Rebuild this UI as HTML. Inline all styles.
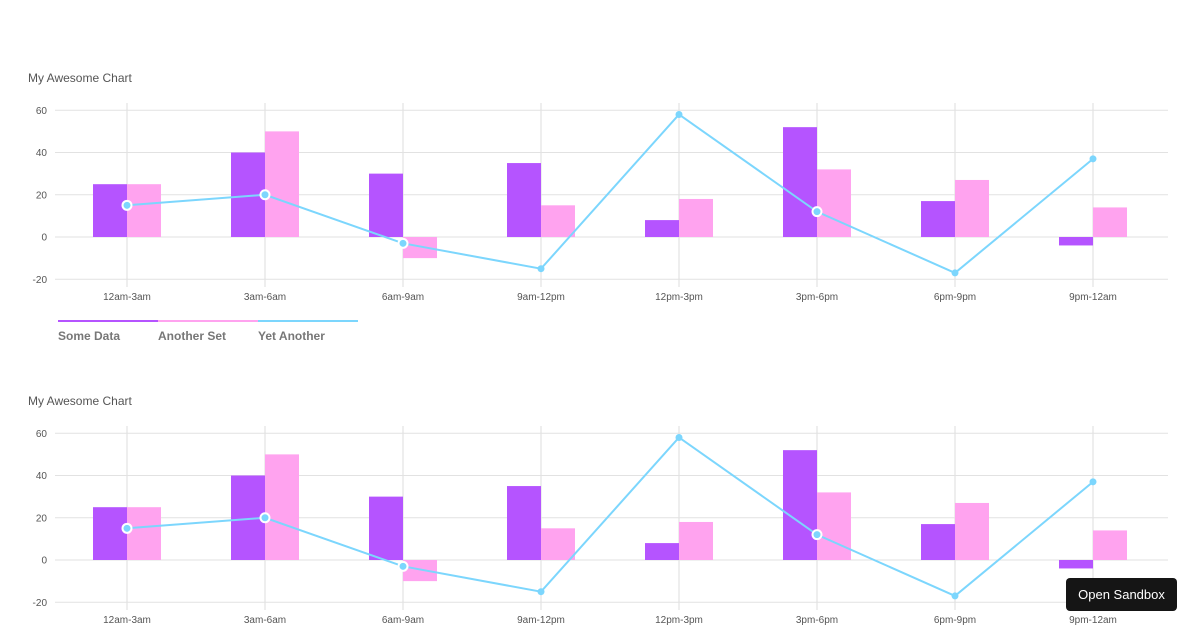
<!DOCTYPE html>
<html><head><meta charset="utf-8">
<style>
html,body{margin:0;padding:0;background:#fff;width:1200px;height:630px;overflow:hidden;font-family:"Liberation Sans",Arial,sans-serif;}
svg{position:absolute;left:0;top:0}
.btn{position:absolute;left:1066px;top:578px;width:111px;height:33px;background:#151515;border-radius:4px;color:#fff;font-size:13px;line-height:33px;text-align:center;}
</style></head><body>
<svg id="s" width="1200" height="630" xmlns="http://www.w3.org/2000/svg"></svg>
<div class="btn">Open Sandbox</div>
<script>
var s=document.getElementById('s');var h='';
var cats=['12am-3am','3am-6am','6am-9am','9am-12pm','12pm-3pm','3pm-6pm','6pm-9pm','9pm-12am'];
var A=[25,40,30,35,8,52,17,-4],B=[25,50,-10,15,18,32,27,14],L=[15,20,-3,-15,58,12,-17,37];
var big=[1,1,1,0,0,1,0,0];
function chart(off,legend){
 var z=237+off,k=42.25/20;
 function Y(v){return z-v*k;}
 h+='<text x="28" y="'+(82+off)+'" font-size="12" fill="#555">My Awesome Chart</text>';
 for(var i=0;i<8;i++){var x=127+138*i;h+='<line x1="'+x+'" y1="'+(103+off)+'" x2="'+x+'" y2="'+(287+off)+'" stroke="#e8e8e8" stroke-width="1.5"/>';
  h+='<text x="'+x+'" y="'+(300+off)+'" font-size="10" fill="#555" text-anchor="middle">'+cats[i]+'</text>';}
 for(var v=-20;v<=60;v+=20){var y=Y(v);h+='<line x1="55" y1="'+y+'" x2="1168" y2="'+y+'" stroke="#e2e2e2" stroke-width="1"/>';
  h+='<text x="47" y="'+(y+3.5)+'" font-size="10" fill="#555" text-anchor="end">'+v+'</text>';}
 for(var i=0;i<8;i++){var x=127+138*i;
  var a=A[i],b=B[i];
  h+='<rect x="'+(x-34)+'" y="'+Math.min(Y(a),z)+'" width="34" height="'+Math.abs(a*k)+'" fill="#b554ff"/>';
  h+='<rect x="'+x+'" y="'+Math.min(Y(b),z)+'" width="34" height="'+Math.abs(b*k)+'" fill="#ffa3ef"/>';}
 var p='';for(var i=0;i<8;i++)p+=(127+138*i)+','+Y(L[i])+' ';
 h+='<polyline points="'+p+'" fill="none" stroke="#7cd6fd" stroke-width="2"/>';
 for(var i=0;i<8;i++){var x=127+138*i;
  if(big[i])h+='<circle cx="'+x+'" cy="'+Y(L[i])+'" r="4.5" fill="#7cd6fd" stroke="#fff" stroke-width="2"/>';
  else h+='<circle cx="'+x+'" cy="'+Y(L[i])+'" r="3.5" fill="#7cd6fd"/>';}
 if(legend){
  var c=['#b554ff','#ffa3ef','#7cd6fd'],n=['Some Data','Another Set','Yet Another'];
  for(var j=0;j<3;j++){h+='<rect x="'+(58+100*j)+'" y="'+(320+off)+'" width="100" height="2" fill="'+c[j]+'"/>';
   h+='<text x="'+(58+100*j)+'" y="'+(340+off)+'" font-size="12" font-weight="bold" fill="#777">'+n[j]+'</text>';}
 }
}
chart(0,true);chart(323,false);
s.innerHTML=h;
</script>
</body></html>
